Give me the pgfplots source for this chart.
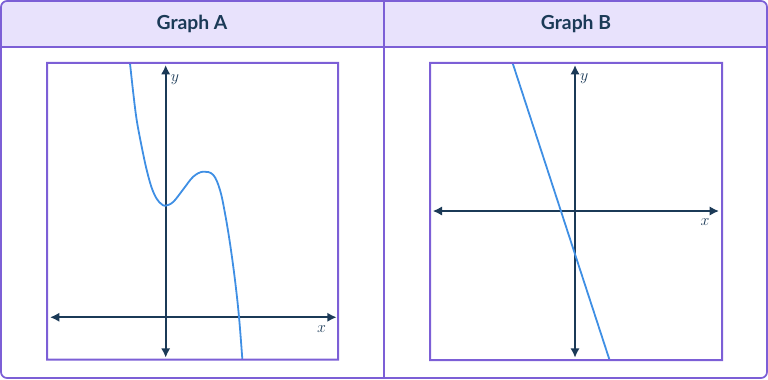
\documentclass[border=0pt]{standalone}
\usepackage{pgfplots}
\pgfplotsset{compat=1.18}
\usepackage{fontspec}
\setmainfont{Lato}
\usetikzlibrary{arrows.meta}
\definecolor{boxc}{HTML}{7C5FD6}
\definecolor{headbg}{HTML}{E8E2FC}
\definecolor{navy}{HTML}{1B3A57}
\definecolor{curve}{HTML}{3F8FE4}
\tikzset{arr/.style={navy, line width=1.5pt, {Latex[length=7pt,width=7pt]}-{Latex[length=7pt,width=7pt]}}}
\pgfplotsset{
  panel/.style={
    scale only axis,
    anchor=south west,
    hide axis,
    clip=true,
  },
}
\begin{document}
\begin{tikzpicture}[x=0.75pt,y=0.75pt]
\useasboundingbox (0,0) rectangle (768,379);
% header background
\begin{scope}
\clip[rounded corners=4.5pt] (1,1) rectangle (767,378);
\fill[headbg] (0,332) rectangle (768,379);
\end{scope}
\draw[boxc, line width=1.3pt] (1,332) -- (767,332);
\draw[boxc, line width=1.3pt] (384,1) -- (384,378);
\draw[boxc, line width=1.3pt, rounded corners=4.5pt] (1,1) rectangle (767,378);
\node[text=navy, font=\fontsize{14.5}{17}\selectfont\bfseries] at (192,355) {Graph A};
\node[text=navy, font=\fontsize{14.5}{17}\selectfont\bfseries] at (576,355) {Graph B};

% Graph A
\begin{axis}[panel, at={(35.25pt,14.8pt)}, width=218pt, height=222pt,
  xmin=-118.7, xmax=172, ymin=-42, ymax=254]
\draw[arr] (axis cs:-115.7,0) -- (axis cs:171,0);
\draw[arr] (axis cs:0,-40.4) -- (axis cs:0,252.3);
\addplot[curve, line width=1.35pt, smooth, tension=0.6] coordinates {
(-36.6,262) (-35.7,254) (-32.4,224) (-29,197.3) (-24,170.6) (-19,147.3) (-14,129.5) (-9,118.5) (-4,113) (0,111.6)
(7.6,115.4) (17.6,128) (27.6,140.6) (37.6,145.6) (47.6,142.3) (54.3,127.3) (59.3,104) (64.3,74) (69.3,37.3) (73.3,0.6) (76.6,-41) (77,-46)
};
\node[text=navy, font=\fontsize{11.5}{13}\selectfont] at (axis cs:156,-11.7) {$x$};
\node[text=navy, font=\fontsize{11.5}{13}\selectfont] at (axis cs:9.3,238) {$y$};
\end{axis}
\fill[boxc, even odd rule] (46,18.5) rectangle (339,317) (48,20.5) rectangle (337,315);

% Graph B
\begin{axis}[panel, at={(322.5pt,14.25pt)}, width=218.8pt, height=222.5pt,
  xmin=-145, xmax=146.7, ymin=-149, ymax=147.7]
\draw[arr] (axis cs:-142.3,0) -- (axis cs:144,0);
\draw[arr] (axis cs:0,-146.7) -- (axis cs:0,146);
\addplot[curve, line width=1.35pt] coordinates {
(-64,153) (-62.3,147.7) (-14.1,0) (0,-43.2) (34.3,-148.3) (36,-153)
};
\node[text=navy, font=\fontsize{11.5}{13}\selectfont] at (axis cs:130,-10.7) {$x$};
\node[text=navy, font=\fontsize{11.5}{13}\selectfont] at (axis cs:9.3,132) {$y$};
\end{axis}
\fill[boxc, even odd rule] (429,18) rectangle (723,317) (431,20) rectangle (721,315);
\end{tikzpicture}
\end{document}
